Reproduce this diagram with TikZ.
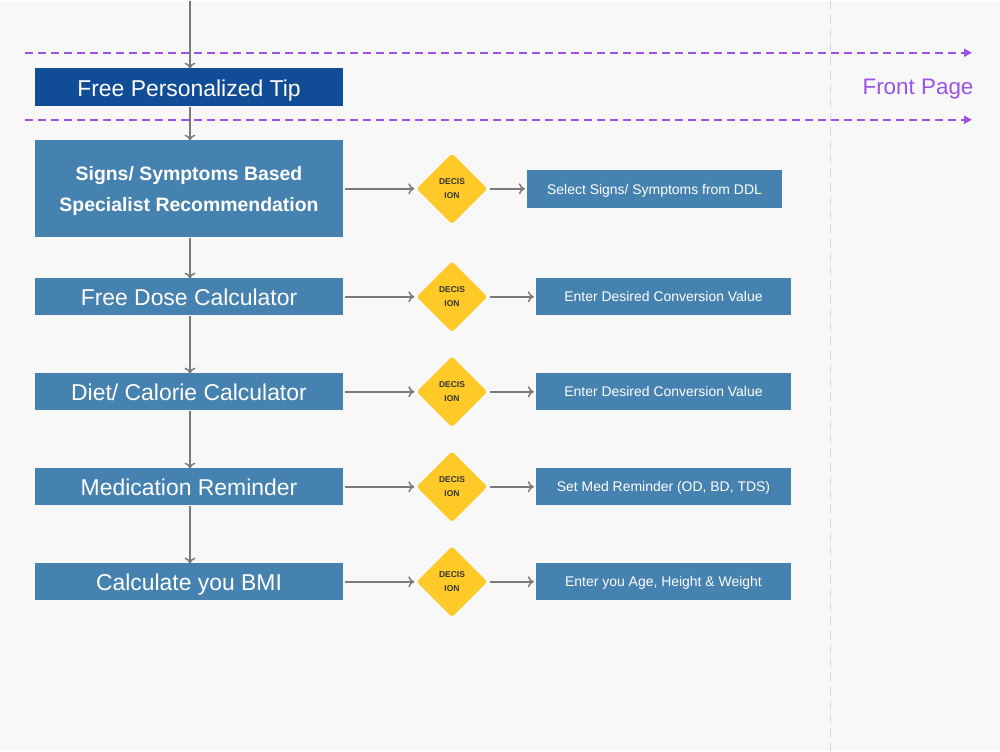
\documentclass[tikz,border=0pt]{standalone}
\usepackage{fontspec}
\setmainfont{Liberation Sans}
\usetikzlibrary{shapes.geometric,arrows.meta}

\definecolor{pagebg}{RGB}{248,248,249}
\definecolor{tipblue}{RGB}{17,77,151}
\definecolor{stepblue}{RGB}{70,130,176}
\definecolor{decyellow}{RGB}{255,202,40}
\definecolor{linegray}{RGB}{122,122,122}
\definecolor{pagepurple}{RGB}{155,83,226}
\definecolor{guidepurple}{RGB}{218,206,242}

\tikzset{
  mainbox/.style={fill=stepblue, text=white, minimum width=308bp, minimum height=37bp,
    inner sep=0pt, text height=19bp, text depth=0pt, font=\fontsize{23}{27}\selectfont},
  inputbox/.style={fill=stepblue, text=white, minimum width=255bp, minimum height=37bp,
    inner sep=0pt, text height=11bp, text depth=0pt, font=\fontsize{14}{17}\selectfont},
  decision/.style={diamond, aspect=1, fill=decyellow, rounded corners=3bp, inner sep=0pt,
    minimum width=71bp, minimum height=71bp, align=center, text=black!80,
    font=\bfseries\fontsize{8.5}{14}\selectfont},
  flow/.style={draw=linegray, line width=1.5bp, -{To[length=6bp,width=11bp]}},
  pageline/.style={draw=pagepurple, line width=2bp, dash pattern=on 8bp off 5bp,
    -{Triangle[length=8bp,width=8bp]}}
}

\begin{document}
\begin{tikzpicture}[x=1bp, y=-1bp]
  % page and guide lines
  \fill[pagebg] (0,0) rectangle (1000,750);
  \draw[guidepurple, line width=1bp, dash pattern=on 8bp off 6bp] (830,0) -- (830,750);
  \coordinate (l1) at (25,52);
  \coordinate (r1) at (972,52);
  \coordinate (l2) at (25,119);
  \coordinate (r2) at (972,119);
  \draw[pageline] (l1) -- (r1);
  \draw[pageline] (l2) -- (r2);
  \node[text=pagepurple, text height=16bp, text depth=0pt, font=\fontsize{22.5}{26}\selectfont]
    (front) at (918,86) {Front Page};

  % left column
  \coordinate (top) at (190,0);
  \node[mainbox, fill=tipblue, minimum height=38bp] (tip) at (189,86) {Free Personalized Tip};
  \node[mainbox, minimum height=97bp, align=center, text height=47bp,
    font=\bfseries\fontsize{19.5}{31}\selectfont]
    (signs) at (189,187.5) {Signs/ Symptoms Based\\Specialist Recommendation};
  \node[mainbox] (dose) at (189,295.5) {Free Dose Calculator};
  \node[mainbox] (diet) at (189,390.5) {Diet/ Calorie Calculator};
  \node[mainbox] (med) at (189,485.5) {Medication Reminder};
  \node[mainbox] (bmi) at (189,580.5) {Calculate you BMI};

  % decisions
  \node[decision] (d1) at (452,188) {DECIS\\ION};
  \node[decision] (d2) at (452,296) {DECIS\\ION};
  \node[decision] (d3) at (452,391) {DECIS\\ION};
  \node[decision] (d4) at (452,486) {DECIS\\ION};
  \node[decision] (d5) at (452,581) {DECIS\\ION};

  % inputs
  \node[inputbox, minimum height=38bp] (in1) at (654.5,188) {Select Signs/ Symptoms from DDL};
  \node[inputbox] (in2) at (663.5,295.5) {Enter Desired Conversion Value};
  \node[inputbox] (in3) at (663.5,390.5) {Enter Desired Conversion Value};
  \node[inputbox] (in4) at (663.5,485.5) {Set Med Reminder (OD, BD, TDS)};
  \node[inputbox] (in5) at (663.5,580.5) {Enter you Age, Height \& Weight};

  % connectors
  \draw[flow] (top) -- ([yshift=-1bp]tip.north -| top);
  \draw[flow, shorten <=1bp] (tip.south -| top) -- ([yshift=-1bp]signs.north -| top);
  \draw[flow, shorten <=1bp] (signs.south -| top) -- ([yshift=-1bp]dose.north -| top);
  \draw[flow, shorten <=1bp] (dose.south -| top) -- ([yshift=-1bp]diet.north -| top);
  \draw[flow, shorten <=1bp] (diet.south -| top) -- ([yshift=-1bp]med.north -| top);
  \draw[flow, shorten <=1bp] (med.south -| top) -- ([yshift=-1bp]bmi.north -| top);

  \draw[flow, shorten <=2bp, shorten >=2bp] (signs.east |- d1) -- (d1.west);
  \draw[flow, shorten <=2bp, shorten >=2bp] (dose.east |- d2) -- (d2.west);
  \draw[flow, shorten <=2bp, shorten >=2bp] (diet.east |- d3) -- (d3.west);
  \draw[flow, shorten <=2bp, shorten >=2bp] (med.east |- d4) -- (d4.west);
  \draw[flow, shorten <=2bp, shorten >=2bp] (bmi.east |- d5) -- (d5.west);

  \draw[flow, shorten <=2bp, shorten >=2bp] (d1.east) -- (in1.west);
  \draw[flow, shorten <=2bp, shorten >=2bp] (d2.east) -- (in2.west |- d2);
  \draw[flow, shorten <=2bp, shorten >=2bp] (d3.east) -- (in3.west |- d3);
  \draw[flow, shorten <=2bp, shorten >=2bp] (d4.east) -- (in4.west |- d4);
  \draw[flow, shorten <=2bp, shorten >=2bp] (d5.east) -- (in5.west |- d5);
\end{tikzpicture}
\end{document}
